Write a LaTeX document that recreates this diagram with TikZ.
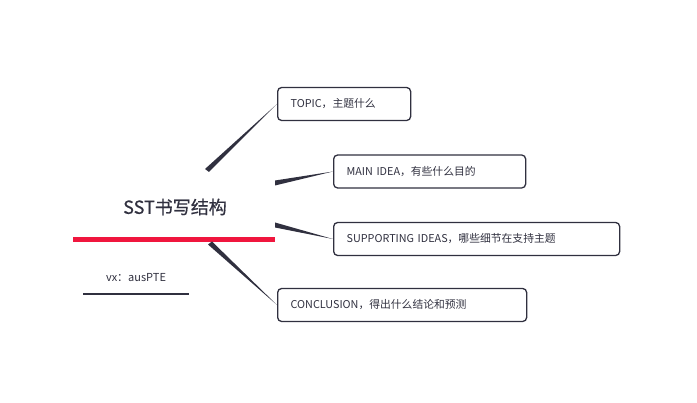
\documentclass[tikz,border=0pt]{standalone}
\usetikzlibrary{calc}
\usepackage{fontspec}
\setmainfont{Noto Sans CJK SC}
\newfontfamily\titlefont{Noto Sans CJK SC}[FakeBold=0.6]
\definecolor{ink}{HTML}{30303F}
\definecolor{redl}{HTML}{F0163E}
\begin{document}
\begin{tikzpicture}[x=1pt,y=-1pt,
  box/.style={draw=ink,line width=1.3pt,rounded corners=4pt,text=ink,font=\fontsize{10.8}{12}\selectfont,inner xsep=13pt,minimum height=33pt,anchor=west,align=left},
  conn/.style={fill=ink}]
\useasboundingbox (0,0) rectangle (697,403);
\node[text=ink,font=\titlefont\fontsize{18}{20}\selectfont] (root) at (175,207) {SST书写结构};
\draw[redl,line width=5pt] (73,240) -- (275,240);
\node[text=ink,font=\fontsize{11}{12}\selectfont] (vx) at (136,278) {vx：ausPTE};
\draw[ink,line width=1.2pt] (83,294) -- (189,294);
\node[box,text width=107pt] (t) at (277,104) {TOPIC，主题什么};
\node[box,text width=166pt] (m) at (333,171.5) {MAIN IDEA，有些什么目的};
\node[box,text width=260pt] (s) at (333,239) {SUPPORTING IDEAS，哪些细节在支持主题};
\node[box,text width=223pt] (c) at (277,305) {CONCLUSION，得出什么结论和预测};
\coordinate (a1) at (207,170);
\coordinate (a2) at (275,183);
\coordinate (a3) at (275,225);
\coordinate (a4) at (210,243);
\fill[conn] ($(a1)+(-2,-1)$) -- ($(a1)+(2,2)$) -- (t.west) -- cycle;
\fill[conn] ($(a2)+(0,-2.5)$) -- ($(a2)+(0,2.5)$) -- (m.west) -- cycle;
\fill[conn] ($(a3)+(0,-2.5)$) -- ($(a3)+(0,2.5)$) -- (s.west) -- cycle;
\fill[conn] ($(a4)+(-2,1.5)$) -- ($(a4)+(2,-1.5)$) -- (c.west) -- cycle;
\end{tikzpicture}
\end{document}
